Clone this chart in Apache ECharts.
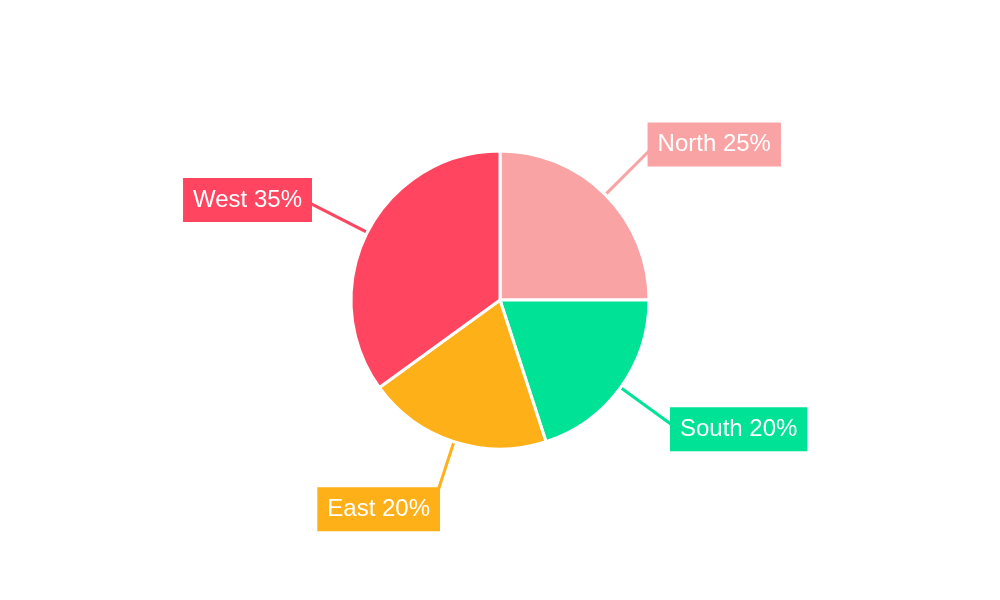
<!DOCTYPE html>
<html>
<head>
<meta charset="utf-8">
<script src="https://cdn.jsdelivr.net/npm/echarts@6/dist/echarts.min.js"></script>
<style>html,body{margin:0;padding:0;background:#fff}#c{width:1000px;height:600px}</style>
</head>
<body>
<div id="c"></div>
<script>
var categories = ['North', 'South', 'East', 'West'];
var values = [25, 20, 20, 35];
var colors = ['#F9A3A4', '#00E396', '#FEB019', '#FF4560'];

var data = categories.map(function (c, i) {
  return {
    name: c, value: values[i],
    itemStyle: { color: colors[i] },
    label: { backgroundColor: colors[i] },
    labelLine: { lineStyle: { color: colors[i] } }
  };
});

var chart = echarts.init(document.getElementById('c'));
chart.setOption({
  animation: false,
  series: [{
    type: 'pie',
    center: [500, 300],
    radius: 149,
    startAngle: 90,
    clockwise: true,
    data: data,
    itemStyle: { borderColor: '#fff', borderWidth: 3 },
    label: {
      show: true,
      formatter: function (p) { return p.name + ' ' + p.value + '%'; },
      color: '#fff',
      fontFamily: 'Liberation Sans, Arial, sans-serif',
      fontSize: 24,
      lineHeight: 24,
      padding: [10, 10, 10, 10],
      distanceToLabelLine: -8
    },
    labelLine: { show: true, length: 71, length2: 0, lineStyle: { width: 3 } }
  }]
});
</script>
</body>
</html>
